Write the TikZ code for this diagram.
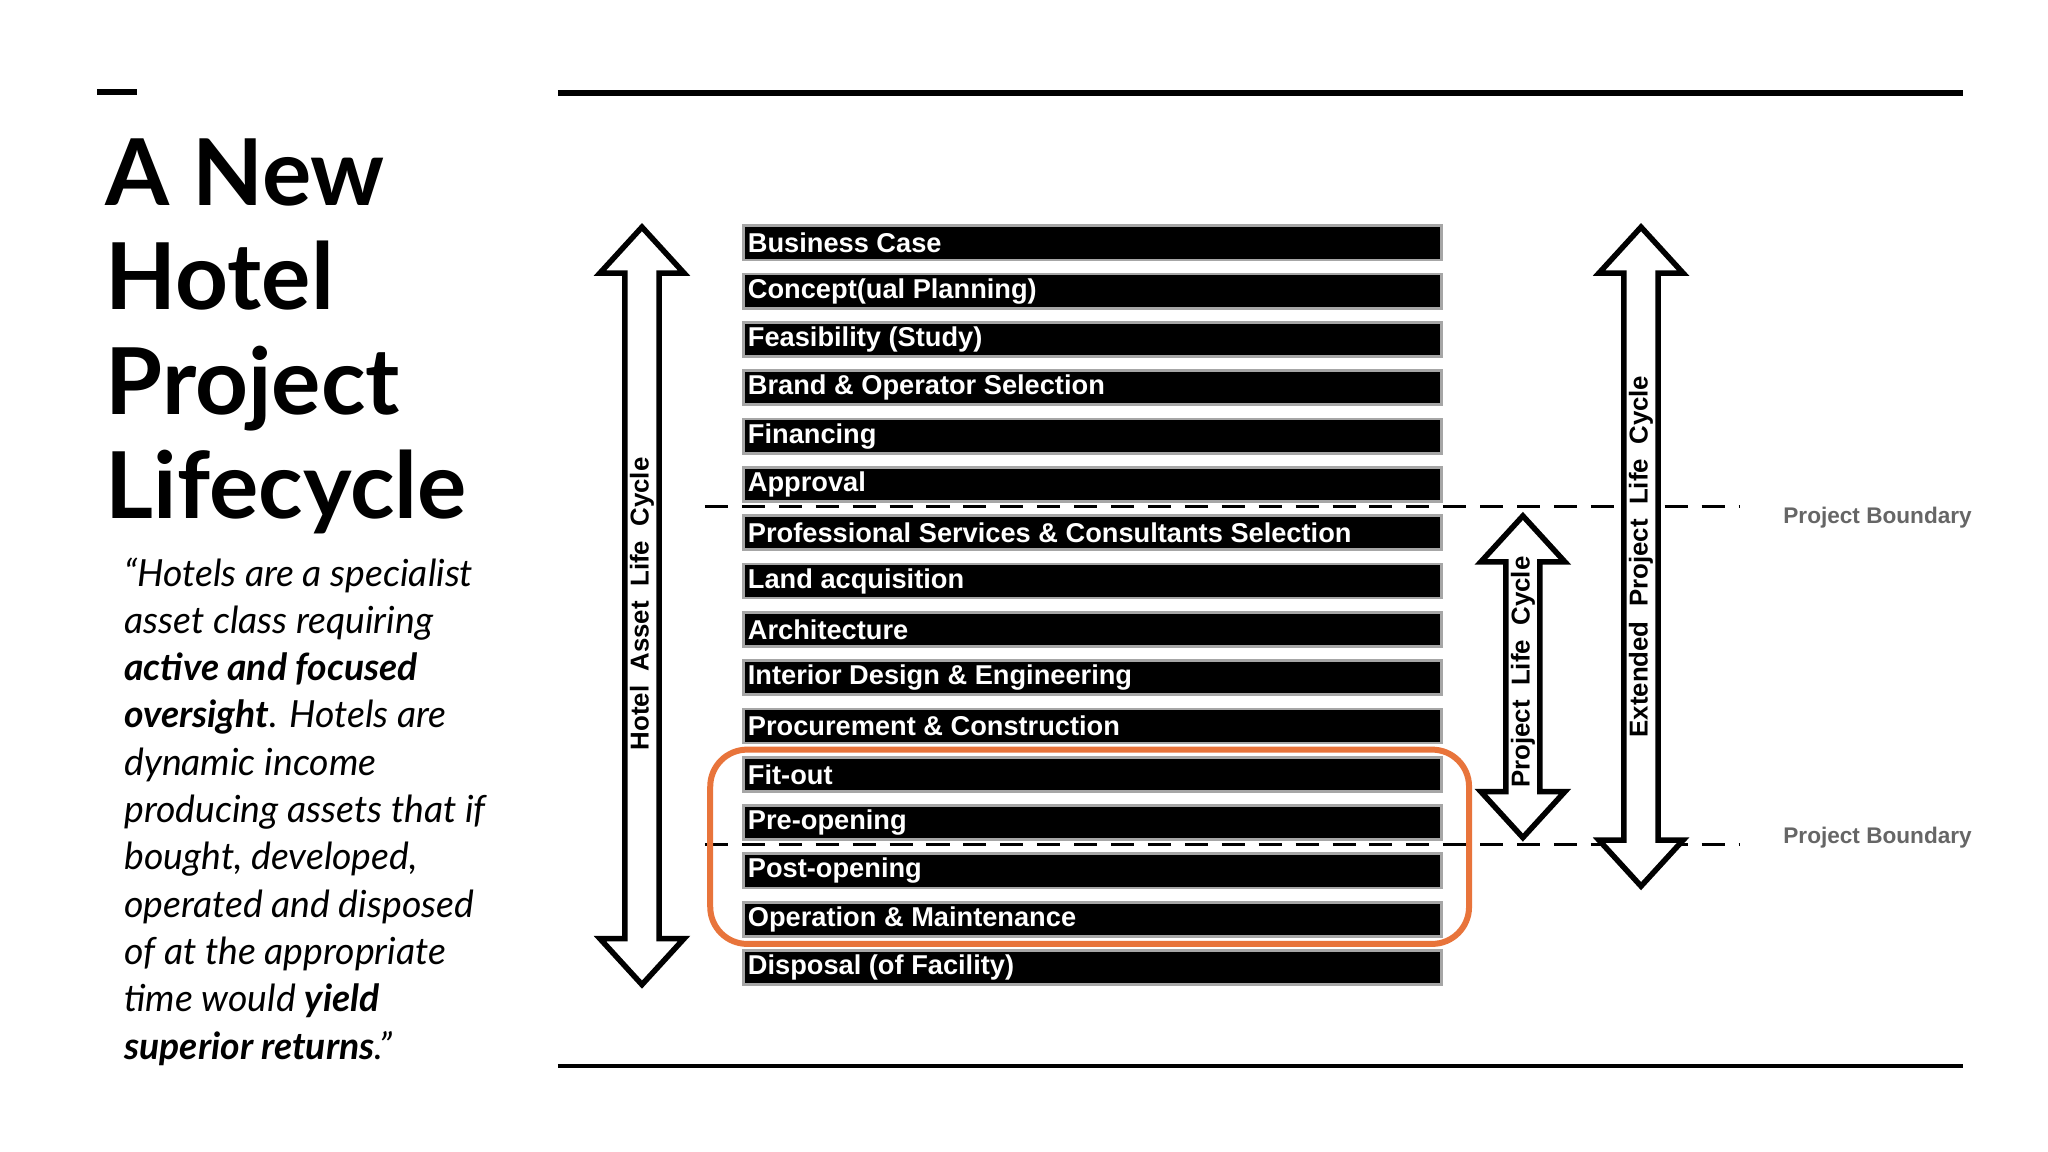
\documentclass[tikz,border=0pt]{standalone}
\usepackage{fontspec}
\setmainfont{Lato}
\newfontfamily\barfont{Liberation Sans}
\usetikzlibrary{calc}
\definecolor{orng}{HTML}{E8743B}
\tikzset{
 bar/.style={draw=gray!70,line width=0.6pt,fill=black,minimum width=532*0.1mm,minimum height=26*0.1mm,inner sep=0pt,anchor=west},
 bartxt/.style={text=white,font=\barfont\bfseries\fontsize{5.9pt}{6pt}\selectfont,anchor=west,inner sep=0pt},
 darrow/.style={draw=black,line width=1.2pt,fill=white,line join=miter},
 rtxt/.style={rotate=90,font=\barfont\bfseries\fontsize{5.6pt}{6pt}\selectfont},
 pb/.style={text=gray!80!black,font=\barfont\bfseries\fontsize{4.9pt}{5pt}\selectfont,anchor=west},
 bdash/.style={line width=0.7pt,dash pattern=on 5pt off 3pt}
}
\newcommand{\dblarrow}[3]{% x, ytop, ybottom
 \draw[darrow] (#1,#2) -- (#1+32,#2+35) -- (#1+13,#2+35) -- (#1+13,#3-35) -- (#1+32,#3-35) -- (#1,#3) -- (#1-32,#3-35) -- (#1-13,#3-35) -- (#1-13,#2+35) -- (#1-32,#2+35) -- cycle;}
\begin{document}
\begin{tikzpicture}[x=0.1mm,y=-0.1mm]
\useasboundingbox[fill=white] (0,0) rectangle (1560,877.5);
\draw[line width=1.2pt] (74,70) -- (104,70);
\node[anchor=north west,align=left,inner sep=0pt,font=\fontsize{20pt}{22.6pt}\selectfont\bfseries] (title) at (80,105) {A New\\Hotel\\Project\\Lifecycle};
\node[anchor=north west,align=left,inner sep=0pt,font=\itshape\fontsize{8.1pt}{10.25pt}\selectfont] (quote) at (94,424) {“Hotels are a specialist\\asset class requiring\\\textbf{active and focused}\\\textbf{oversight}. Hotels are\\dynamic income\\producing assets that if\\bought, developed,\\operated and disposed\\of at the appropriate\\time would \textbf{yield}\\\textbf{superior returns}.”};
\draw[line width=1.4pt] (425,71) -- (1495,71);
\draw[line width=0.9pt] (425,812) -- (1495,812);
\foreach \t [count=\i from 0] in {Business Case,Concept(ual Planning),Feasibility (Study),Brand \& Operator Selection,Financing,Approval,Professional Services \& Consultants Selection,Land acquisition,Architecture,Interior Design \& Engineering,Procurement \& Construction,Fit-out,Pre-opening,Post-opening,Operation \& Maintenance,Disposal (of Facility)}{
 \node[bar] (b\i) at (565,185+36.8*\i) {};
 \node[bartxt] (t\i) at (569,185+36.8*\i) {\t};
}
\coordinate (d1a) at (537,386); \coordinate (d1b) at (1325,386);
\coordinate (d2a) at (537,643); \coordinate (d2b) at (1325,643);
\draw[bdash] (d1a) -- (d1b);
\draw[bdash] (d2a) -- (d2b);
\node[pb] (pb1) at (1346,394) {Project Boundary};
\node[pb] (pb2) at (1346,638) {Project Boundary};
\dblarrow{489}{173}{750}
\node[rtxt] (hal) at (489,460) {Hotel\ \ Asset\ \ Life\ \ Cycle};
\dblarrow{1160}{393}{638}
\node[rtxt] (plc) at (1160,512) {Project\ \ Life\ \ Cycle};
\dblarrow{1250}{173}{675}
\node[rtxt] (eplc) at (1250,424) {Extended\ \ Project\ \ Life\ \ Cycle};
\draw[orng,line width=1.3pt,rounded corners=8pt] (541,571) rectangle (1119,719);
\end{tikzpicture}
\end{document}
